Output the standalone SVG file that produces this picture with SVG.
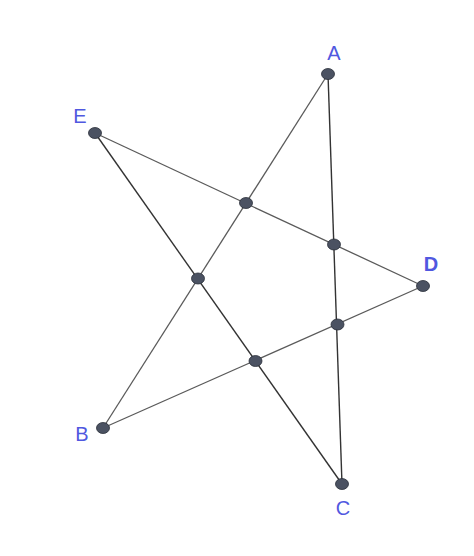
<svg xmlns="http://www.w3.org/2000/svg" width="474" height="556" viewBox="0 0 474 556">
<style>
.edge{stroke:#333333;stroke-width:1.4;fill:none}
.light{stroke:#5a5a5a;stroke-width:1.3}
.dot{fill:#4b5262;stroke:#2a2e38;stroke-width:0.8}
.lbl{font-family:"Liberation Sans",Arial,sans-serif;font-size:20px;fill:#5058e0;text-anchor:middle}
</style>
<rect width="474" height="556" fill="#ffffff"/>
<g id="connectors">
<line class="edge" x1="328" y1="74" x2="342" y2="484"/>
<line class="edge light" x1="328" y1="74" x2="103" y2="428"/>
<line class="edge light" x1="95" y1="133" x2="423" y2="286"/>
<line class="edge" x1="95" y1="133" x2="342" y2="484"/>
<line class="edge light" x1="103" y1="428" x2="423" y2="286"/>
</g>
<g id="A"><ellipse class="dot" cx="328" cy="74" rx="6.5" ry="5.5"/><text class="lbl" x="334" y="60">A</text></g>
<g id="E"><ellipse class="dot" cx="95" cy="133" rx="6.5" ry="5.5"/><text class="lbl" x="80" y="123">E</text></g>
<g id="D"><ellipse class="dot" cx="423" cy="286" rx="6.5" ry="5.5"/><text class="lbl" x="431" y="271" font-weight="bold">D</text></g>
<g id="B"><ellipse class="dot" cx="103" cy="428" rx="6.5" ry="5.5"/><text class="lbl" x="82" y="441">B</text></g>
<g id="C"><ellipse class="dot" cx="342" cy="484" rx="6.5" ry="5.5"/><text class="lbl" x="343" y="515">C</text></g>
<g id="P1"><ellipse class="dot" cx="246" cy="203" rx="6.5" ry="5.5"/></g>
<g id="P2"><ellipse class="dot" cx="334" cy="244.5" rx="6.5" ry="5.5"/></g>
<g id="P3"><ellipse class="dot" cx="198" cy="278.5" rx="6.5" ry="5.5"/></g>
<g id="P4"><ellipse class="dot" cx="337.5" cy="324.5" rx="6.5" ry="5.5"/></g>
<g id="P5"><ellipse class="dot" cx="255.5" cy="361" rx="6.5" ry="5.5"/></g>
</svg>
